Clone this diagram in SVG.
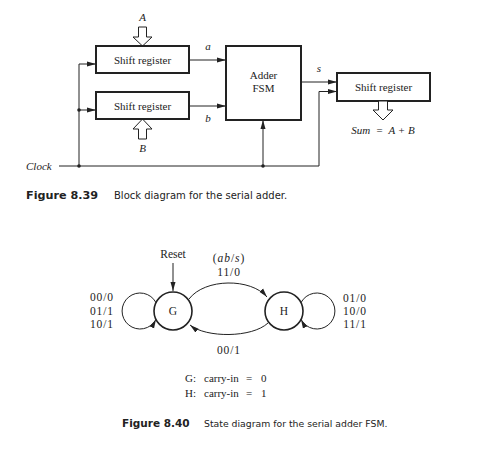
<svg xmlns="http://www.w3.org/2000/svg" width="482" height="462" viewBox="0 0 482 462">
<style>
.box{fill:#fff;stroke:#222;stroke-width:2}
.ln{fill:none;stroke:#222;stroke-width:1}
.st{fill:#fff;stroke:#222;stroke-width:1.6}
.hol{fill:#fff;stroke:#222;stroke-width:1}
.t{font-family:"Liberation Serif",serif;font-size:11px;fill:#222}
.s2{font-size:11.5px}
.m{text-anchor:middle}
.i{font-style:italic}
.lb{letter-spacing:0.9px}
.capb{font-family:"DejaVu Sans",sans-serif;font-weight:bold;font-size:11.2px;fill:#222}
.cap{font-family:"DejaVu Sans",sans-serif;font-size:10px;fill:#222}
.c2b{font-size:10.5px}
.c2{font-size:9.3px}
</style>
<defs>
<marker id="ah" markerWidth="9" markerHeight="6" refX="9" refY="3" orient="auto" markerUnits="userSpaceOnUse"><path d="M0,0.5 L9,3 L0,5.5 z" fill="#222"/></marker>
</defs>
<rect width="482" height="462" fill="#fff"/>

<g id="connectors">
<path class="ln" d="M59,166 H319 V91.5 H337" marker-end="url(#ah)"/>
<path class="ln" d="M79,166 V64 H96" marker-end="url(#ah)"/>
<path class="ln" d="M79,110 H96" marker-end="url(#ah)"/>
<path class="ln" d="M263,166 V120" marker-end="url(#ah)"/>
<path class="ln" d="M189,60 H226" marker-end="url(#ah)"/>
<path class="ln" d="M189,106 H226" marker-end="url(#ah)"/>
<path class="ln" d="M301,82 H337" marker-end="url(#ah)"/>
<circle cx="79" cy="110" r="1.8" fill="#222"/>
<circle cx="79" cy="166" r="1.8" fill="#222"/>
<circle cx="263" cy="166" r="1.8" fill="#222"/>
<path class="ln" d="M173,263 V291" marker-end="url(#ah)"/>
<path class="ln" d="M156,302.6 A18,18 0 1,0 156,319.4" marker-end="url(#ah)"/>
<path class="ln" d="M301,302.6 A18,18 0 1,1 301,319.4" marker-end="url(#ah)"/>
<path class="ln" d="M189,299 C205,278 251,278 267,297" marker-end="url(#ah)"/>
<path class="ln" d="M268,323 C252,338 206,338 190,325" marker-end="url(#ah)"/>
</g>

<g id="inputA">
<polygon class="hol" points="138.5,27 146.5,27 146.5,37 152,37 142.5,46 133,37 138.5,37"/>
<text class="t m i" x="142.5" y="21">A</text>
</g>
<g id="inputB">
<polygon class="hol" points="142.5,119 152,129 146.5,129 146.5,139 138.5,139 138.5,129 133,129"/>
<text class="t m i" x="142.5" y="152">B</text>
</g>
<g id="shiftA">
<rect class="box" x="96" y="46" width="93" height="27"/>
<text class="t m" x="142.5" y="63.5">Shift register</text>
</g>
<g id="shiftB">
<rect class="box" x="96" y="92" width="93" height="27"/>
<text class="t m" x="142.5" y="109.5">Shift register</text>
</g>
<g id="adder">
<rect class="box" x="226" y="46" width="75" height="74"/>
<text class="t m" x="263.5" y="79">Adder</text>
<text class="t m" x="263.5" y="92">FSM</text>
</g>
<g id="shiftSum">
<rect class="box" x="337" y="73" width="93" height="28"/>
<text class="t m" x="383.5" y="91">Shift register</text>
<polygon class="hol" points="378.5,101 387.5,101 387.5,110 393,110 383,120 373,110 378.5,110"/>
<text class="t m i" x="383" y="134" xml:space="preserve">Sum  =  A + B</text>
</g>
<g id="labels1">
<text class="t m i" x="208" y="50">a</text>
<text class="t m i" x="208" y="122">b</text>
<text class="t m i" x="319" y="72">s</text>
<text class="t i" x="26" y="170">Clock</text>
</g>
<g id="caption1">
<text class="capb" x="26" y="199">Figure 8.39</text>
<text class="cap" x="114" y="199">Block diagram for the serial adder.</text>
</g>

<g id="stateG">
<circle class="st" cx="173" cy="311" r="19"/>
<text class="t s2 m" x="173" y="315">G</text>
</g>
<g id="stateH">
<circle class="st" cx="284" cy="311" r="19"/>
<text class="t s2 m" x="284" y="315">H</text>
</g>
<g id="labels2">
<text class="t s2 m" x="173" y="258">Reset</text>
<text class="t s2 m lb" x="229" y="262">(<tspan class="i">ab</tspan>/<tspan class="i">s</tspan>)</text>
<text class="t s2 m lb" x="229" y="276">11/0</text>
<text class="t s2 m lb" x="229" y="354">00/1</text>
<text class="t s2 m lb" x="102" y="301">00/0</text>
<text class="t s2 m lb" x="102" y="315">01/1</text>
<text class="t s2 m lb" x="102" y="328">10/1</text>
<text class="t s2 m lb" x="355" y="302">01/0</text>
<text class="t s2 m lb" x="355" y="315">10/0</text>
<text class="t s2 m lb" x="355" y="328">11/1</text>
<text class="t" y="382"><tspan x="185">G:</tspan><tspan x="204">carry-in</tspan><tspan x="246">=</tspan><tspan x="261">0</tspan></text>
<text class="t" y="397"><tspan x="185">H:</tspan><tspan x="204">carry-in</tspan><tspan x="246">=</tspan><tspan x="261">1</tspan></text>
</g>
<g id="caption2">
<text class="capb c2b" x="122" y="427">Figure 8.40</text>
<text class="cap c2" x="204" y="427">State diagram for the serial adder FSM.</text>
</g>
</svg>
